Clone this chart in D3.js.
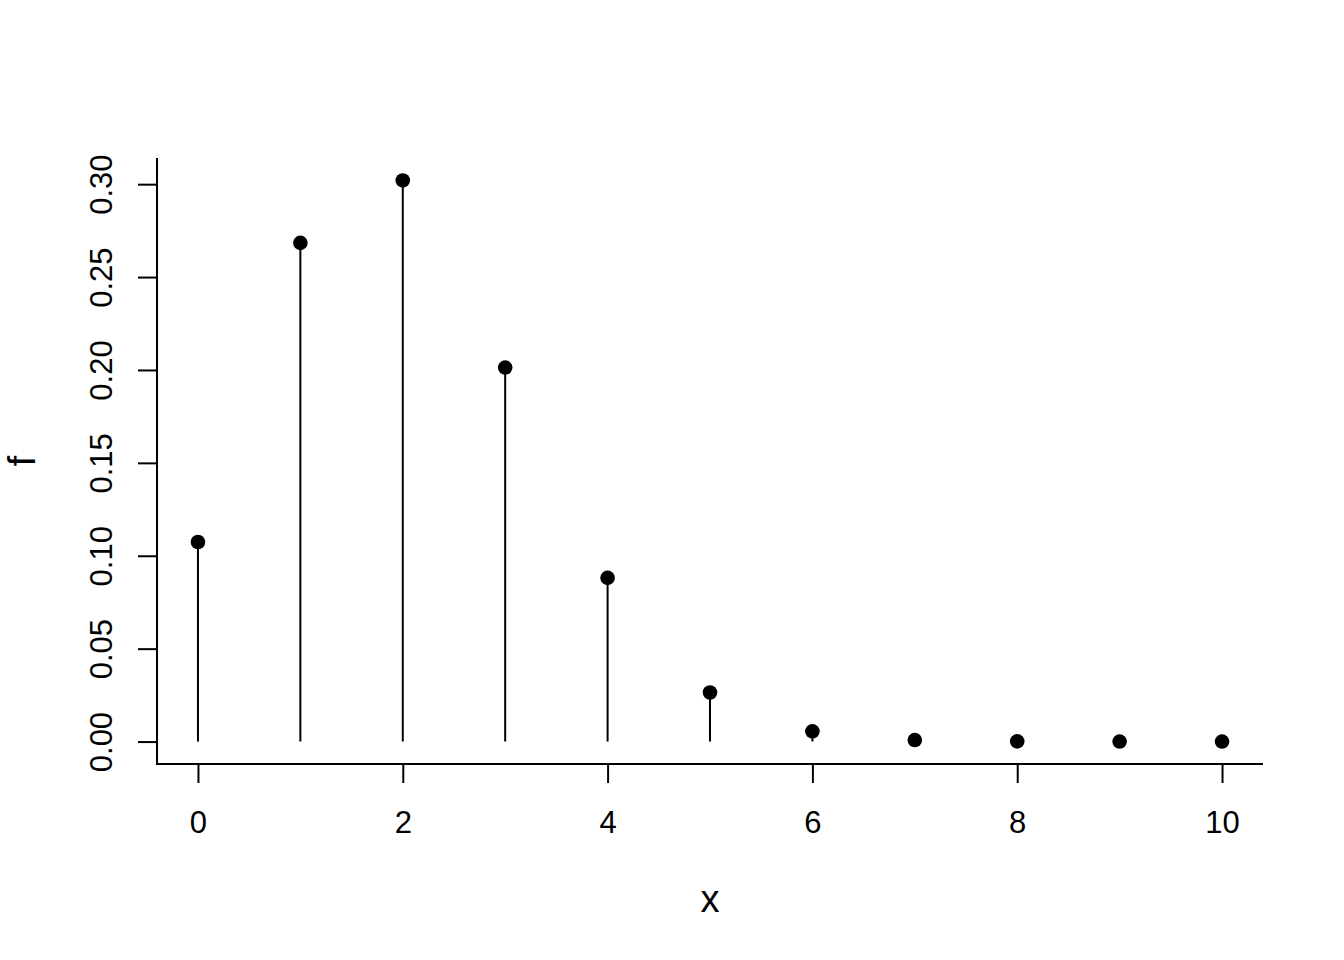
<!DOCTYPE html>
<html>
<head>
<meta charset="utf-8">
<script src="https://cdn.jsdelivr.net/npm/d3@7"></script>
<style>
    body { margin: 0; background: #fff; }
    text { font-family: "Liberation Sans", Arial, sans-serif; fill: #000; }
</style>
</head>
<body>
<svg id="chart" width="1344" height="960"></svg>
<script>
// Data
var xValues = [0, 1, 2, 3, 4, 5, 6, 7, 8, 9, 10],
    fValues = [0.1074, 0.2684, 0.3020, 0.2013, 0.0881, 0.0264, 0.0055, 0.0008, 0.0001, 0.0000, 0.0000],
    xTicks = [0, 2, 4, 6, 8, 10],
    yTicks = [0, 0.05, 0.10, 0.15, 0.20, 0.25, 0.30]

let svg = d3.select('#chart'),
    plotLeft = 157, plotRight = 1263, plotTop = 158, plotBottom = 764,
    tickLen = 19,
    fontSize = 31,
    labelSize = 38

// R style: 4% padding on each side of the data range
let xPad = (d3.max(xValues) - d3.min(xValues)) * 0.04,
    yPad = (d3.max(fValues) - 0) * 0.04

let xScale = d3.scaleLinear()
    .domain([d3.min(xValues) - xPad, d3.max(xValues) + xPad])
    .range([plotLeft, plotRight])

let yScale = d3.scaleLinear()
    .domain([0 - yPad, d3.max(fValues) + yPad])
    .range([plotBottom, plotTop])

// L-shaped box
svg.append('path')
    .attr('d', `M${plotLeft},${plotTop}V${plotBottom}H${plotRight}`)
    .attr('fill', 'none')
    .attr('stroke', '#000')
    .attr('stroke-width', 2)

// x axis
let xAxis = svg.append('g')
    .attr('transform', `translate(0,${plotBottom})`)
    .call(d3.axisBottom(xScale).tickValues(xTicks).tickSize(tickLen).tickFormat(d3.format('d')))

xAxis.select('.domain').remove()
xAxis.selectAll('line').attr('stroke-width', 2)
xAxis.selectAll('text')
    .style('font-size', fontSize + 'px')
    .attr('y', 69)
    .attr('dy', 0)

// y axis
let yAxis = svg.append('g')
    .attr('transform', `translate(${plotLeft},0)`)
    .call(d3.axisLeft(yScale).tickValues(yTicks).tickSize(tickLen).tickFormat(d3.format('.2f')))

yAxis.select('.domain').remove()
yAxis.selectAll('line').attr('stroke-width', 2)
yAxis.selectAll('text')
    .style('font-size', fontSize + 'px')
    .attr('x', 0)
    .attr('dy', 0)
    .attr('text-anchor', 'middle')
    .attr('transform', 'translate(-45,0) rotate(-90)')

// Axis titles
svg.append('text')
    .attr('x', (plotLeft + plotRight) / 2)
    .attr('y', 912)
    .attr('text-anchor', 'middle')
    .style('font-size', labelSize + 'px')
    .text('x')

svg.append('text')
    .attr('transform', `translate(35,${(plotTop + plotBottom) / 2}) rotate(-90)`)
    .attr('text-anchor', 'middle')
    .style('font-size', labelSize + 'px')
    .text('f')

// Stems
svg.append('g')
    .selectAll('line')
    .data(xValues)
    .enter()
    .append('line')
    .attr('x1', d => xScale(d))
    .attr('x2', d => xScale(d))
    .attr('y1', yScale(0))
    .attr('y2', (d, i) => yScale(fValues[i]))
    .attr('stroke', '#000')
    .attr('stroke-width', 2)

// Points
svg.append('g')
    .selectAll('circle')
    .data(xValues)
    .enter()
    .append('circle')
    .attr('cx', d => xScale(d))
    .attr('cy', (d, i) => yScale(fValues[i]))
    .attr('r', 7.3)
    .attr('fill', '#000')
</script>
</body>
</html>
